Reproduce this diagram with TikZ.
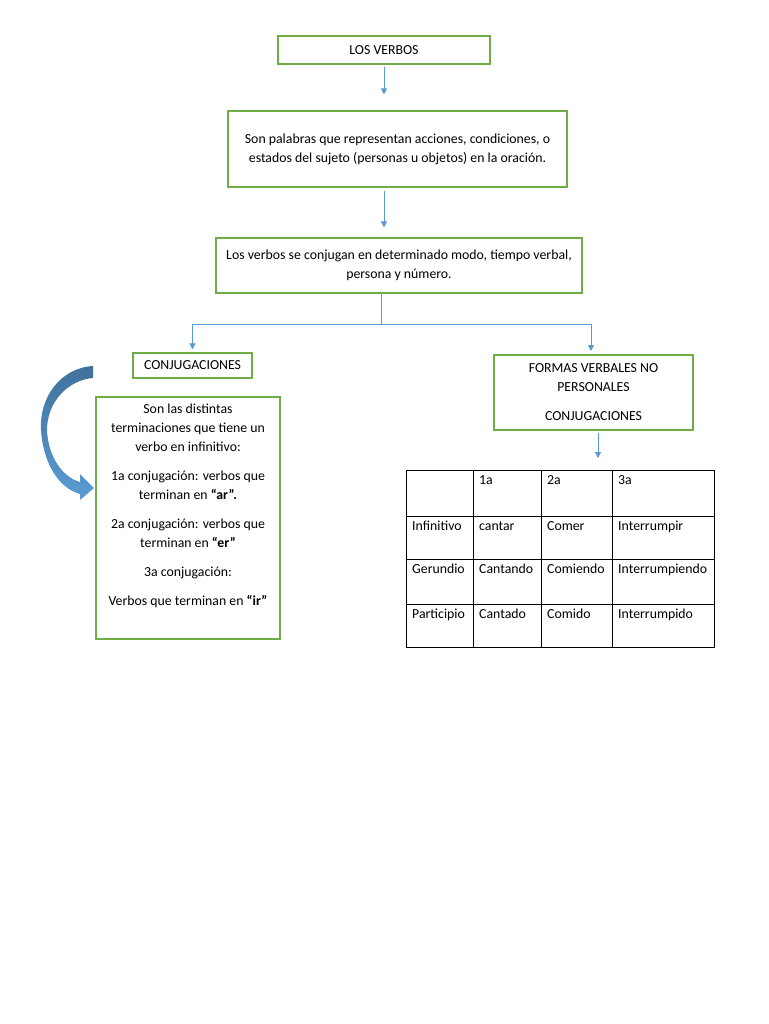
\documentclass[tikz,border=0pt]{standalone}
\usepackage{fontspec}
\setmainfont{Carlito}
\usetikzlibrary{arrows.meta}
\definecolor{boxgreen}{HTML}{70AD47}
\definecolor{linkblue}{HTML}{5B9BD5}
\definecolor{darkblue}{HTML}{41719C}
\begin{document}
\begin{tikzpicture}[x=1pt, y=-1pt,
    greenbox/.style = {draw=boxgreen, line width=1.1pt, inner sep=0pt},
    txt/.style = {align=center, font=\fontsize{13.8}{19}\selectfont},
    conn/.style = {draw=linkblue, line width=0.8pt, -{Triangle[length=6pt,width=6pt]}},
    link/.style = {draw=linkblue, line width=0.8pt},
    cell/.style = {anchor=base west, inner sep=0pt, font=\fontsize{13.8}{17}\selectfont}]
    \useasboundingbox (0,0) rectangle (768,1024);
    % boxes
    \node[greenbox, txt, minimum width=212pt, minimum height=28pt] (verbos) at (384,50) {LOS VERBOS};
    \node[greenbox, txt, minimum width=339pt, minimum height=76pt] (def) at (397.5,149)
        {Son palabras que representan acciones, condiciones, o\\ estados del sujeto (personas u objetos) en la oración.};
    \node[greenbox, txt, minimum width=366pt, minimum height=55pt] (mode) at (399,265.5)
        {Los verbos se conjugan en determinado modo, tiempo verbal,\\ persona y número.};
    \node[greenbox, txt, minimum width=119pt, minimum height=25pt] (conjlbl) at (192.5,365.5) {CONJUGACIONES};
    \node[greenbox, txt, minimum width=199pt, minimum height=75pt] (formas) at (593.5,392.5)
        {FORMAS VERBALES NO\\ PERSONALES\\[10pt] CONJUGACIONES};
    \node[greenbox, minimum width=184pt, minimum height=242pt] (conj) at (188,518) {};
    \node[txt, inner sep=0pt] (conjtxt) at (188,506)
        {Son las distintas\\ terminaciones que tiene un\\ verbo en infinitivo:\\[10pt]
         1a conjugación: verbos que\\ terminan en \textbf{“ar”.}\\[10pt]
         2a conjugación: verbos que\\ terminan en \textbf{“er”}\\[10pt]
         3a conjugación:\\[10pt]
         Verbos que terminan en \textbf{“ir”}};
    % connectors
    \coordinate (axis) at (384,0);
    \coordinate (split) at (381,324);
    \coordinate (tabtop) at (598,470);
    \draw[conn, shorten <=2pt, shorten >=16pt] (verbos.south) -- (verbos.south |- def.north);
    \draw[conn, shorten <=3pt, shorten >=10pt] (axis |- def.south) -- (axis |- mode.north);
    \draw[link] (split |- mode.south) -- (split);
    \draw[conn, shorten >=3pt] (split) -| (conjlbl.north);
    \draw[conn, shorten >=4pt] (split) -| (591,355);
    \draw[conn, shorten <=2pt, shorten >=12pt] (tabtop |- formas.south) -- (tabtop);
    % curved arrow
    \shade[top color=darkblue, bottom color=linkblue]
        (93,366) .. controls (60,368) and (39,398) .. (41,430)
        .. controls (43,462) and (58,488) .. (80,494)
        -- (80,500) -- (94,488) -- (80,474) -- (80,482)
        .. controls (62,477) and (48,456) .. (47,430)
        .. controls (47,402) and (68,380) .. (93,378) -- cycle;
    % table
    \draw[line width=0.8pt] (406,470) rectangle (714,647);
    \foreach \x in {473,541,612}
        \draw[line width=0.8pt] (\x,470) -- (\x,647);
    \foreach \y in {516,559,604}
        \draw[line width=0.8pt] (406,\y) -- (714,\y);
    \foreach \y/\a/\b/\c/\d [count=\r] in {470/{}/1a/2a/3a,
            516/Infinitivo/cantar/Comer/Interrumpir,
            559/Gerundio/Cantando/Comiendo/Interrumpiendo,
            604/Participio/Cantado/Comido/Interrumpido} {
        \node[cell] (c\r-1) at (412,\y+14.5) {\a};
        \node[cell] (c\r-2) at (479,\y+14.5) {\b};
        \node[cell] (c\r-3) at (547,\y+14.5) {\c};
        \node[cell] (c\r-4) at (618,\y+14.5) {\d};
    }
\end{tikzpicture}
\end{document}
